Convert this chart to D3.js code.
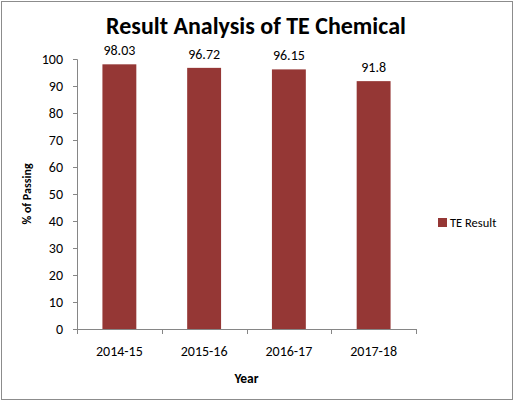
<!DOCTYPE html>
<html>
<head>
<meta charset="utf-8">
<script src="https://cdn.jsdelivr.net/npm/d3@7"></script>
<style>
  body { margin: 0; background: white; }
  text { font-family: Carlito, Calibri, "Open Sans", sans-serif; fill: black; }
</style>
</head>
<body>
<svg id="chart"></svg>
<script>
let years = ['2014-15', '2015-16', '2016-17', '2017-18'];
let results = [98.03, 96.72, 96.15, 91.8];
let yTicks = [0, 10, 20, 30, 40, 50, 60, 70, 80, 90, 100];

function createGraph() {
  let width = 516;
  let height = 402;
  let margin = { top: 59, bottom: 73, left: 77, right: 100 };
  let barColor = '#953735';
  let axisColor = '#868686';

  let svg = d3.select('#chart');
  svg.selectAll('*').remove();
  svg.attr('width', width).attr('height', height);

  // outer frame
  svg.append('rect')
    .attr('x', 1.5).attr('y', 1.5)
    .attr('width', width - 5).attr('height', height - 4)
    .attr('fill', 'white')
    .attr('stroke', '#8c8c8c');

  let yScale = d3.scaleLinear()
    .domain([0, 100])
    .range([height - margin.bottom, margin.top]);

  let xScale = d3.scaleBand()
    .domain(years)
    .range([margin.left, width - margin.right])
    .paddingInner(0.6)
    .paddingOuter(0.3);

  // y axis
  let yAxis = svg.append('g')
    .attr('transform', `translate(${margin.left}, 0)`)
    .call(d3.axisLeft(yScale).tickValues(yTicks).tickSize(4).tickPadding(10));
  yAxis.selectAll('path, line').attr('stroke', axisColor);
  yAxis.selectAll('text').style('font-size', '14px').style('fill', 'black');

  // x axis: ticks sit on category boundaries
  let y0 = yScale(0);
  let step = xScale.step();
  let first = margin.left;
  let xg = svg.append('g');
  xg.append('line')
    .attr('x1', margin.left).attr('x2', width - margin.right)
    .attr('y1', y0 + 0.5).attr('y2', y0 + 0.5)
    .attr('stroke', axisColor);
  d3.range(years.length + 1).forEach(i => {
    let x = Math.round(first + i * step) + 0.5;
    xg.append('line')
      .attr('x1', x).attr('x2', x)
      .attr('y1', y0).attr('y2', y0 + 5)
      .attr('stroke', axisColor);
  });
  xg.selectAll('text.cat')
    .data(years)
    .enter()
    .append('text')
    .attr('class', 'cat')
    .attr('x', d => xScale(d) + xScale.bandwidth() / 2)
    .attr('y', y0 + 27)
    .attr('text-anchor', 'middle')
    .style('font-size', '14px')
    .text(d => d);

  // bars
  svg.selectAll('rect.bar')
    .data(results)
    .enter()
    .append('rect')
    .attr('class', 'bar')
    .attr('x', (d, i) => xScale(years[i]))
    .attr('y', d => yScale(d))
    .attr('width', xScale.bandwidth())
    .attr('height', d => y0 - yScale(d))
    .attr('fill', barColor);

  // data labels
  svg.selectAll('text.val')
    .data(results)
    .enter()
    .append('text')
    .attr('class', 'val')
    .attr('x', (d, i) => xScale(years[i]) + xScale.bandwidth() / 2)
    .attr('y', d => yScale(d) - 9)
    .attr('text-anchor', 'middle')
    .style('font-size', '14px')
    .text(d => d);

  // title
  svg.append('text')
    .attr('x', 256)
    .attr('y', 34)
    .attr('text-anchor', 'middle')
    .style('font-size', '24px')
    .style('font-weight', 'bold')
    .text('Result Analysis of TE Chemical');

  // axis titles
  svg.append('text')
    .attr('x', (margin.left + width - margin.right) / 2)
    .attr('y', 383)
    .attr('text-anchor', 'middle')
    .style('font-size', '13.5px')
    .style('font-weight', 'bold')
    .text('Year');

  svg.append('text')
    .attr('transform', 'translate(31, 194) rotate(-90)')
    .attr('text-anchor', 'middle')
    .style('font-size', '12px')
    .style('font-weight', 'bold')
    .text('% of Passing');

  // legend
  svg.append('rect')
    .attr('x', 438).attr('y', 218)
    .attr('width', 9).attr('height', 9)
    .attr('fill', barColor);
  svg.append('text')
    .attr('x', 450)
    .attr('y', 227)
    .style('font-size', '12.5px')
    .text('TE Result');
}

createGraph();
</script>
</body>
</html>
